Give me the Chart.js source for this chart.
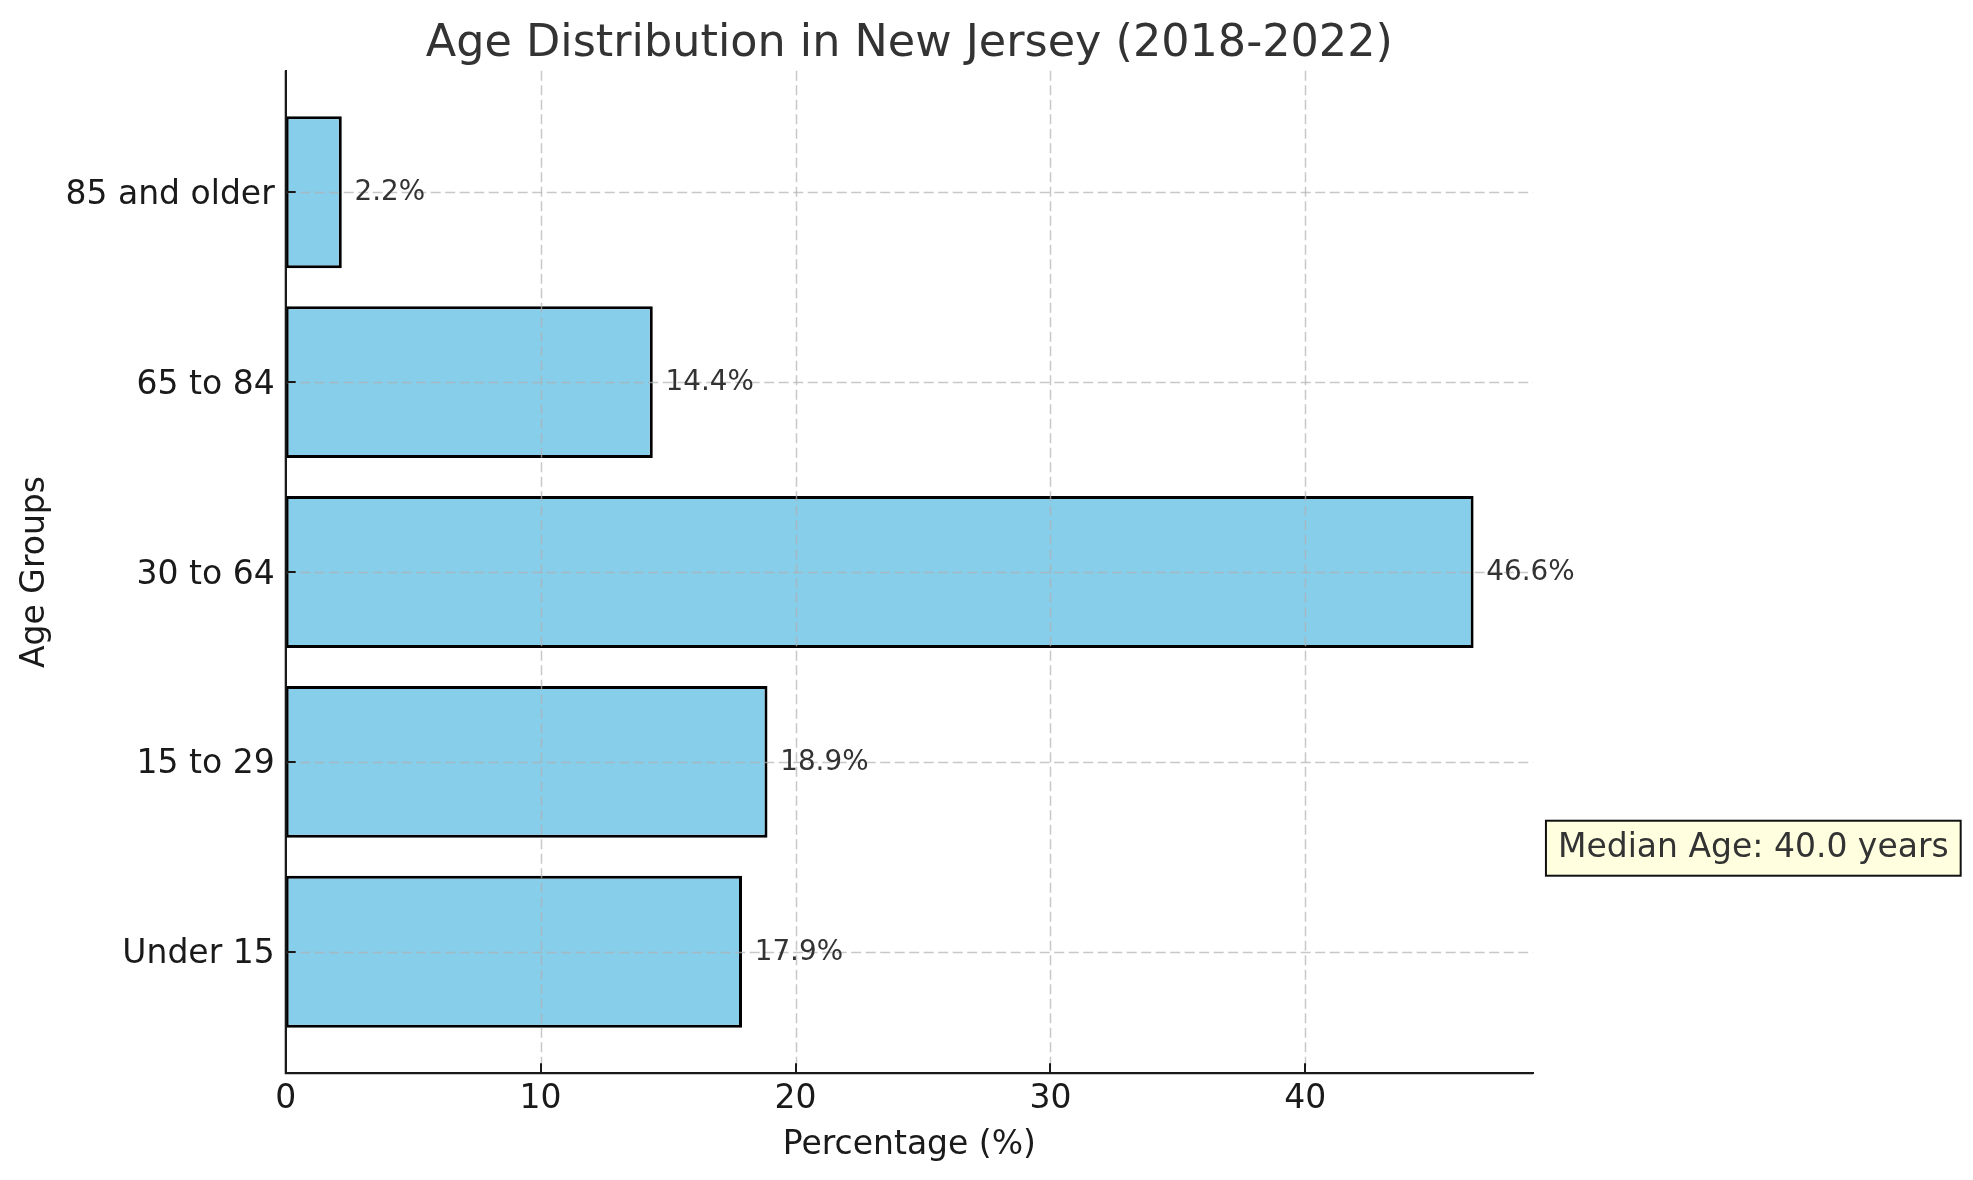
<!DOCTYPE html>
<html>
<head>
<meta charset="utf-8">
<script src="https://cdn.jsdelivr.net/npm/chart.js@4.4.0/dist/chart.umd.min.js"></script>
<style>
  html, body { margin: 0; padding: 0; background: #fff; }
  #wrap { width: 1973px; height: 1180px; }
</style>
</head>
<body>
<div id="wrap"><canvas id="chart" width="1973" height="1180"></canvas></div>
<script>
// age groups, bottom to top
var ageGroups = ['Under 15', '15 to 29', '30 to 64', '65 to 84', '85 and older'];
var percentages = [17.9, 18.9, 46.6, 14.4, 2.2];
var xTicks = [0, 10, 20, 30, 40];
var medianAge = 40.0;
var chartTitle = 'Age Distribution in New Jersey (2018-2022)';

var FONT = "'DejaVu Sans', 'Noto Sans', sans-serif";

// grid on top of the bars, inward ticks, value labels, median box, title
var extras = {
  id: 'extras',
  afterDatasetsDraw: function(chart){
    var ctx = chart.ctx, area = chart.chartArea;
    var x = chart.scales.x, y = chart.scales.y;
    ctx.save();
    ctx.strokeStyle = 'rgba(176,176,176,0.7)';
    ctx.lineWidth = 1.5;
    ctx.setLineDash([10, 4.5]);
    x.ticks.forEach(function(t){
      if (t.value === 0) return;
      var px = Math.round(x.getPixelForValue(t.value)) + 0.5;
      ctx.beginPath(); ctx.moveTo(px, area.top); ctx.lineTo(px, area.bottom); ctx.stroke();
    });
    y.ticks.forEach(function(t){
      var py = Math.round(y.getPixelForValue(t.value)) + 0.5;
      ctx.beginPath(); ctx.moveTo(area.left, py); ctx.lineTo(area.right, py); ctx.stroke();
    });
    ctx.setLineDash([]);
    ctx.strokeStyle = '#1a1a1a';
    ctx.lineWidth = 2;
    // spines again so they sit above the grid
    ctx.beginPath();
    ctx.moveTo(area.left, area.top); ctx.lineTo(area.left, area.bottom); ctx.lineTo(area.right, area.bottom);
    ctx.stroke();
    x.ticks.forEach(function(t){
      var px = Math.round(x.getPixelForValue(t.value));
      ctx.beginPath(); ctx.moveTo(px, area.bottom); ctx.lineTo(px, area.bottom - 10); ctx.stroke();
    });
    y.ticks.forEach(function(t){
      var py = Math.round(y.getPixelForValue(t.value));
      ctx.beginPath(); ctx.moveTo(area.left, py); ctx.lineTo(area.left + 10, py); ctx.stroke();
    });

    // value labels
    ctx.fillStyle = '#333';
    ctx.font = '27.8px ' + FONT;
    ctx.textAlign = 'left';
    ctx.textBaseline = 'middle';
    percentages.forEach(function(v, i){
      ctx.fillText(v.toFixed(1) + '%', x.getPixelForValue(v + 0.5), y.getPixelForValue(i) + 1);
    });

    // median annotation
    var txt = 'Median Age: ' + medianAge.toFixed(1) + ' years';
    ctx.font = '33px ' + FONT;
    var w = ctx.measureText(txt).width;
    var tx = area.right + 0.02 * (area.right - area.left);
    var ty = area.bottom - 0.225 * (area.bottom - area.top);
    var pad = 12;
    ctx.fillStyle = '#ffffe0';
    ctx.fillRect(tx - pad, ty - 27, w + 2 * pad, 55);
    ctx.strokeStyle = '#111';
    ctx.lineWidth = 2;
    ctx.strokeRect(tx - pad, ty - 27, w + 2 * pad, 55);
    ctx.fillStyle = '#333';
    ctx.fillText(txt, tx, ty + 1);

    // title, centred over the plot
    ctx.font = '44.5px ' + FONT;
    ctx.textAlign = 'center';
    ctx.fillText(chartTitle, (area.left + area.right) / 2, 44);
    ctx.restore();
  }
};

var chart = new Chart(document.getElementById('chart'), {
  type: 'bar',
  data: {
    datasets: [{
      label: 'Percentage',
      data: percentages.map(function(v, i){ return { x: v, y: i }; }),
      backgroundColor: '#87ceeb',
      borderColor: '#000',
      borderWidth: 3,
      borderSkipped: false,
      barPercentage: 0.8,
      categoryPercentage: 1.0
    }]
  },
  options: {
    indexAxis: 'y',
    responsive: false,
    animation: false,
    devicePixelRatio: 1,
    layout: { padding: { left: 0, right: 440, top: 70.7, bottom: 0 } },
    plugins: {
      legend: { display: false },
      tooltip: { enabled: false },
      title: { display: false }
    },
    scales: {
      x: {
        type: 'linear',
        min: 0,
        max: 48.93,
        offset: false,
        grid: { display: false, drawTicks: false },
        border: { display: true, color: '#1a1a1a', width: 2 },
        ticks: {
          stepSize: 10,
          includeBounds: false,
          padding: 6,
          color: '#1a1a1a',
          font: { family: FONT, size: 33 }
        },
        afterBuildTicks: function(s){ s.ticks = xTicks.map(function(v){ return { value: v }; }); },
        afterFit: function(s){ s.height = 106.7; },
        title: {
          display: true,
          text: 'Percentage (%)',
          color: '#1a1a1a',
          font: { family: FONT, size: 33, lineHeight: 1.2 },
          padding: { top: 0, bottom: 15 }
        }
      },
      y: {
        type: 'linear',
        min: -0.64,
        max: 4.64,
        offset: false,
        grid: { display: false, drawTicks: false, offset: false },
        border: { display: true, color: '#1a1a1a', width: 2 },
        ticks: {
          padding: 11,
          labelOffset: 3,
          color: '#1a1a1a',
          font: { family: FONT, size: 33 },
          callback: function(v){ return ageGroups[v]; }
        },
        afterBuildTicks: function(s){ s.ticks = ageGroups.map(function(c, i){ return { value: i }; }); },
        afterFit: function(s){ s.width = 285.7; },
        title: {
          display: true,
          text: 'Age Groups',
          color: '#1a1a1a',
          font: { family: FONT, size: 33, lineHeight: 1.2 },
          padding: { top: 16, bottom: 0 }
        }
      }
    }
  },
  plugins: [extras]
});
</script>
</body>
</html>
